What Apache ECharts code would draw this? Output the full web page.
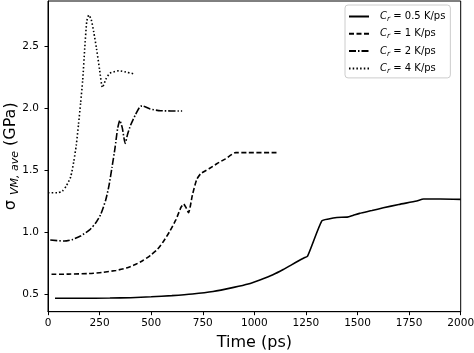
<!DOCTYPE html>
<html><head><meta charset="utf-8">
<script src="https://cdn.jsdelivr.net/npm/echarts@6/dist/echarts.min.js"></script>
<style>html,body{margin:0;padding:0;background:#fff}#c{width:474px;height:353px}</style>
</head><body><div id="c"></div>
<script>
const xTicks = [0, 250, 500, 750, 1000, 1250, 1500, 1750, 2000];
const yTicks = [0.5, 1.0, 1.5, 2.0, 2.5];
const seriesNames = ['0.5', '1', '2', '4'];
const cr05 = [[34,0.465],[150,0.465],[300,0.467],[400,0.470],[500,0.477],[600,0.487],[700,0.500],[800,0.520],[900,0.553],[970,0.580],[1030,0.615],[1090,0.655],[1140,0.697],[1180,0.735],[1215,0.768],[1240,0.790],[1258,0.805],[1327,1.089],[1360,1.105],[1400,1.117],[1450,1.120],[1480,1.135],[1510,1.150],[1570,1.173],[1625,1.195],[1700,1.222],[1787,1.250],[1820,1.266],[1900,1.266],[2000,1.263]];
const cr1 = [[17,0.659],[100,0.660],[200,0.665],[260,0.673],[330,0.690],[380,0.710],[420,0.735],[460,0.770],[495,0.810],[530,0.860],[560,0.925],[590,1.005],[620,1.100],[645,1.200],[657,1.226],[668,1.200],[681,1.156],[700,1.300],[720,1.420],[740,1.470],[780,1.510],[818,1.550],[860,1.590],[910,1.640],[1115,1.640]];
const cr2 = [[11,0.935],[80,0.927],[120,0.940],[160,0.970],[200,1.015],[230,1.070],[255,1.140],[280,1.260],[295,1.370],[310,1.520],[325,1.680],[337,1.830],[348,1.900],[360,1.840],[374,1.715],[386,1.790],[400,1.860],[425,1.950],[450,2.015],[460,2.015],[495,1.992],[545,1.978],[650,1.976]];
const cr4 = [[0,1.317],[45,1.317],[70,1.330],[90,1.375],[110,1.445],[125,1.570],[137,1.700],[148,1.870],[158,2.040],[168,2.220],[178,2.480],[188,2.700],[198,2.750],[210,2.710],[222,2.610],[235,2.480],[250,2.310],[264,2.165],[280,2.230],[300,2.280],[345,2.300],[385,2.287],[420,2.274]];

const FF = 'DejaVu Sans';
const styles = [
  {type: 'solid'},
  {type: [5, 2.5]},
  {type: [7, 2, 1.5, 2]},
  {type: [1.5, 2.2]}
];
const datas = [cr05, cr1, cr2, cr4];
const chart = echarts.init(document.getElementById('c'), null, {renderer: 'canvas'});
chart.setOption({
  animation: false,
  backgroundColor: '#fff',
  grid: {left: 48, right: 13.3, top: 1, bottom: 41.3, containLabel: false, outerBoundsMode: 'none',
    show: true, borderColor: '#000', borderWidth: 1, backgroundColor: 'transparent'},
  xAxis: {
    type: 'value', min: 0, max: 2000, interval: 250,
    axisLine: {show: true, lineStyle: {color: '#000', width: 1}},
    axisTick: {show: true, inside: false, length: 3.5, lineStyle: {color: '#000'}},
    axisLabel: {color: '#000', fontFamily: FF, fontSize: 10.5, margin: 6, showMaxLabel: true, showMinLabel: true,
      formatter: v => String(v)},
    splitLine: {show: false},
    name: 'Time (ps)', nameLocation: 'middle', nameGap: 23, nameMoveOverlap: false,
    nameTextStyle: {color: '#000', fontFamily: FF, fontSize: 16}
  },
  yAxis: {
    type: 'value', min: 0.357, max: 2.863,
    axisLine: {show: true, lineStyle: {color: '#000', width: 1}},
    axisTick: {show: true, inside: false, length: 3.5, lineStyle: {color: '#000'}, customValues: yTicks},
    axisLabel: {color: '#000', fontFamily: FF, fontSize: 10.5, margin: 9, customValues: yTicks, formatter: v => v.toFixed(1)},
    splitLine: {show: false},
    name: '{a|σ} {b|VM, ave} {a|(GPa)}', nameLocation: 'middle', nameGap: 27, nameMoveOverlap: false,
    nameTextStyle: {color: '#000', fontFamily: FF, fontSize: 16,
      rich: {
        a: {fontFamily: FF, fontSize: 16, lineHeight: 20, color: '#000'},
        b: {fontFamily: FF, fontSize: 11, fontStyle: 'italic', lineHeight: 11, verticalAlign: 'bottom', color: '#000'}
      }}
  },
  legend: {
    show: true, orient: 'vertical', left: 345, top: 5,
    padding: [5, 5, 3, 3], itemWidth: 20, itemHeight: 11, itemGap: 4.3,
    borderColor: '#ccc', borderWidth: 1, borderRadius: 3, backgroundColor: '#fff',
    data: seriesNames,
    itemStyle: {opacity: 0, color: 'transparent', borderWidth: 0},
    formatter: n => '{i|C}{s|r} = ' + n + ' K/ps',
    textStyle: {color: '#000', fontFamily: FF, fontSize: 10, lineHeight: 13, padding: [0, 0, 0, 6],
      rich: {
        i: {fontFamily: FF, fontSize: 10, fontStyle: 'italic', lineHeight: 13, color: '#000'},
        s: {fontFamily: FF, fontSize: 7.5, fontStyle: 'italic', lineHeight: 8, verticalAlign: 'bottom', color: '#000'}
      }}
  },
  series: datas.map((d, i) => ({
    name: seriesNames[i], type: 'line', data: d, symbol: 'none', showSymbol: false,
    smooth: 0.2, clip: true,
    lineStyle: {color: '#000', width: 1.6, type: styles[i].type, cap: 'butt'},
    itemStyle: {color: '#000'}
  }))
});
</script></body></html>
